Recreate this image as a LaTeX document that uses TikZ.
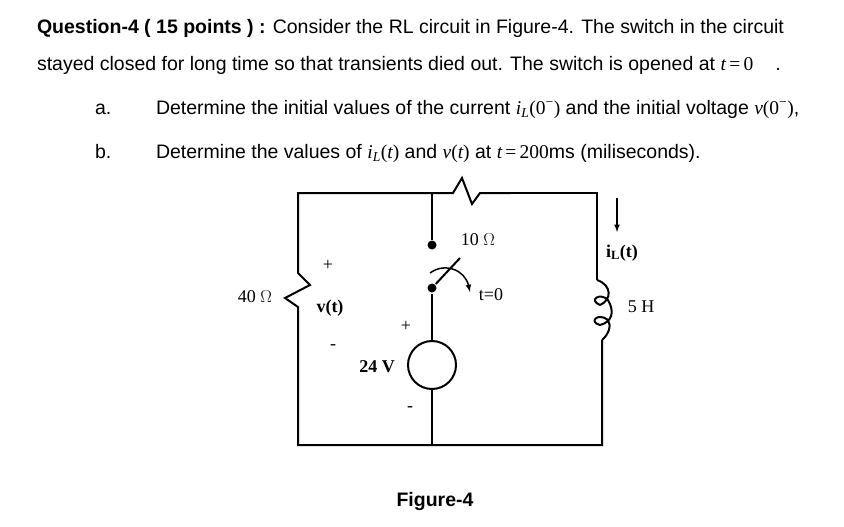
\documentclass[tikz,border=0pt]{standalone}
\usepackage{fontspec}
\setmainfont{Liberation Sans}
\newfontfamily\tnr{Liberation Serif}
\newcommand{\mi}[1]{{\tnr\itshape #1}}
\newcommand{\mr}[1]{{\tnr #1}}
\begin{document}
\begin{tikzpicture}[x=1pt,y=-1pt,line width=2pt,
  txt/.style={anchor=base west,inner sep=0pt,font=\fontsize{19.5}{22}\selectfont},
  lab/.style={inner sep=0pt,font=\tnr\fontsize{18}{20}\selectfont},
  dot/.style={circle,fill,inner sep=0pt,minimum size=9pt}]
\useasboundingbox (0,0) rectangle (844,527);
\node[txt] (l1) at (36,34) {\textbf{Question-4 ( 15 points ) :} Consider the RL circuit in Figure-4. The switch in the circuit};
\node[txt] (l2) at (36,71) {stayed closed for long time so that transients died out. The switch is opened at \mi{t}\,\mr{=\,0}\hspace{22pt}.};
\node[txt] (a) at (94,114) {a.};
\node[txt] (at) at (155,114) {Determine the initial values of the current \mi{i}\textsubscript{\mi{L}}\mr{(0\textsuperscript{−})} and the initial voltage \mi{v}\mr{(0\textsuperscript{−})},};
\node[txt] (b) at (94,158) {b.};
\node[txt] (bt) at (155,158) {Determine the values of \mi{i}\textsubscript{\mi{L}}\mr{(\mi{t})} and \mi{v}\mr{(\mi{t})} at \mi{t}\,\mr{=\,200}ms (miliseconds).};
\coordinate (tl) at (298,193); \coordinate (tm) at (432,193); \coordinate (tr) at (597,193);
\coordinate (bl) at (298,445); \coordinate (bm) at (432,445); \coordinate (br) at (602,445);
\node[dot] (d1) at (432,245) {};
\node[dot] (d2) at (432,288) {};
\node[circle,draw,minimum size=48pt,inner sep=0pt] (src) at (432,365) {};
\draw (tm) -- (tl) -- (298,273) -- (310,285) -- (285,298) -- (298,307) -- (298,327) -- (bl) -- (bm) -- (br) -- (602,340);
\draw (tm) -- (453,193) -- (462,178) -- (472,204) -- (480,193) -- (510,193);
\draw (510,193) -- (tr) -- (597,280);
\draw (597,280) .. controls (612,285) and (612,300) .. (600,305) .. controls (588,300) and (600,292) .. (608,300) .. controls (615,312) and (612,322) .. (600,325) .. controls (588,322) and (598,312) .. (608,320) .. controls (612,326) and (608,335) .. (602,340);
\draw (tm) -- (d1);
\draw (d2) -- (src.north);
\draw (src.south) -- (bm);
\draw (d2) -- (460,258);
\draw[-latex,line width=1.5pt] (430,273) .. controls (445,262) and (465,270) .. (470,292);
\draw[-latex,line width=1.5pt] (617,198) -- (617,232);
\node[lab] (r10) at (478,240) {10 $\Omega$};
\node[lab] (t0) at (491,295) {t=0};
\node[lab] (iL) at (622,253) {\textbf{i\textsubscript{L}(t)}};
\node[lab] (l5) at (641,307) {5 H};
\node[lab] (r40) at (255,297) {40 $\Omega$};
\node[lab] (vp) at (328,265) {+};
\node[lab] (vt) at (330,308) {\textbf{v(t)}};
\node[lab] (vm) at (333,347) {-};
\node[lab] (sp) at (406,326) {+};
\node[lab] (sv) at (377,367) {\textbf{24 V}};
\node[lab] (sm) at (410,409) {-};
\node[txt,anchor=base] (fig) at (435,506) {\textbf{Figure-4}};
\end{tikzpicture}
\end{document}
